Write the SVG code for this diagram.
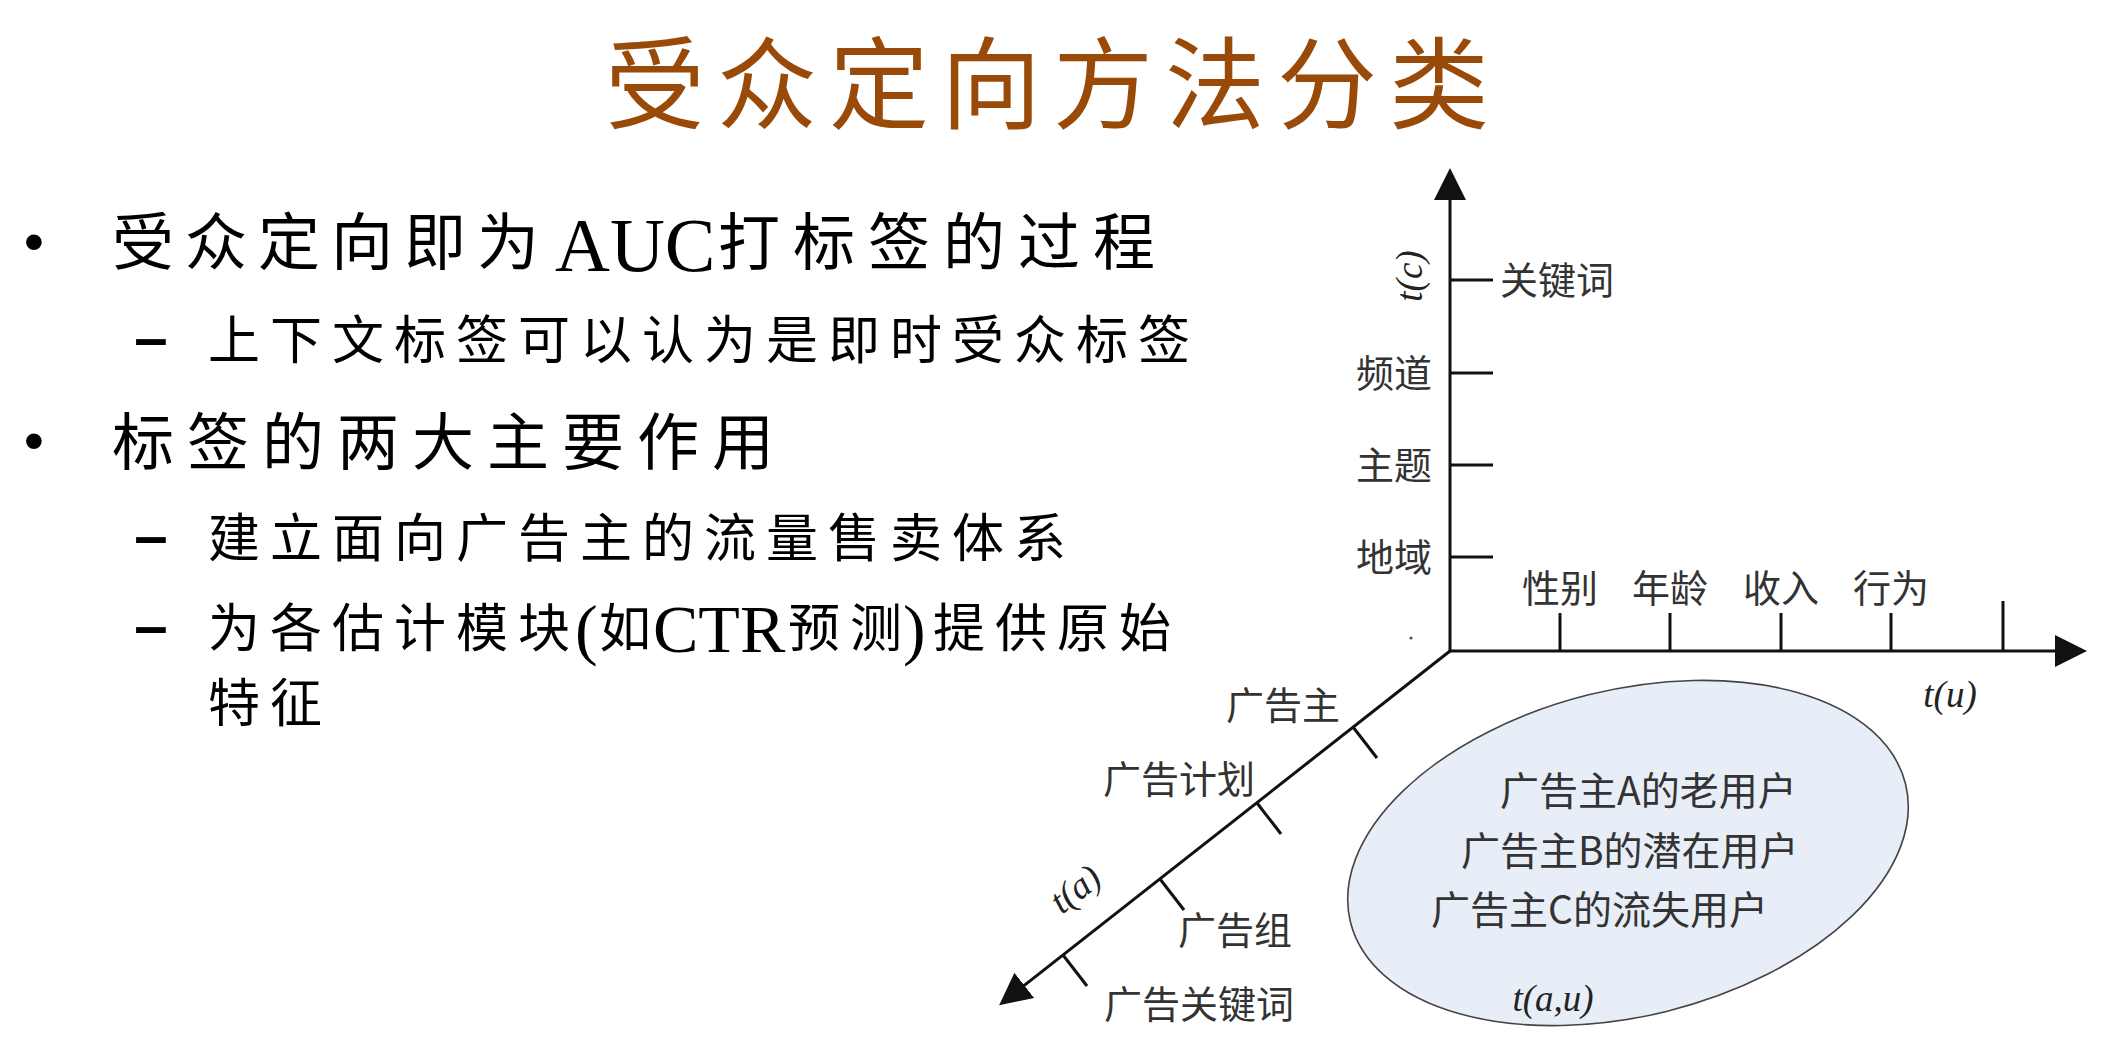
<svg xmlns="http://www.w3.org/2000/svg" width="2109" height="1061" viewBox="0 0 2109 1061">
<defs>
<style>
.title{font-family:"Liberation Serif","Noto Sans CJK SC",serif;font-size:100px;fill:#9A4A08;letter-spacing:12px}
.b1{font-family:"Liberation Serif","Noto Sans CJK SC",serif;font-size:62px;fill:#000}
.b2{font-family:"Liberation Serif","Noto Sans CJK SC",serif;font-size:52px;fill:#000;letter-spacing:10px}
.lat{letter-spacing:0}
.dot{font-family:"Liberation Sans",sans-serif;font-size:58px;fill:#000}
.dash{font-family:"Liberation Sans",sans-serif;font-size:60px;font-weight:bold;fill:#000}
.lbl{font-family:"Noto Sans CJK SC","Liberation Sans",sans-serif;font-size:38px;fill:#333}
.in{font-size:39px}
.math{font-family:"Liberation Serif",serif;font-style:italic;font-size:37px;fill:#222}
.axis{stroke:#111;stroke-width:3;fill:none}
.tick{stroke:#111;stroke-width:3;fill:none}
</style>
<marker id="arr" viewBox="0 0 32 32" refX="22" refY="16" markerWidth="32" markerHeight="32" markerUnits="userSpaceOnUse" orient="auto">
<path d="M0,0 L32,16 L0,32 z" fill="#111"/>
</marker>
</defs>
<rect width="2109" height="1061" fill="#fff"/>

<g id="title">
<text class="title" x="605" y="121">受众定向方法分类</text>
</g>

<g id="bullets">
<text class="dot" x="34" y="261" text-anchor="middle">•</text>
<text class="b1" y="265"><tspan x="112" letter-spacing="11">受众定向即</tspan><tspan letter-spacing="0">为</tspan><tspan class="lat" x="555" y="271" font-size="76">AUC</tspan><tspan x="718" y="265" letter-spacing="13">打标签的过程</tspan></text>
<text class="dash" x="151" y="358" text-anchor="middle">–</text>
<text class="b2" x="208" y="359">上下文标签可以认为是即时受众标签</text>
<text class="dot" x="34" y="460" text-anchor="middle">•</text>
<text class="b1" x="112" y="465" letter-spacing="13">标签的两大主要作用</text>
<text class="dash" x="151" y="556" text-anchor="middle">–</text>
<text class="b2" x="208" y="557">建立面向广告主的流量售卖体系</text>
<text class="dash" x="151" y="646" text-anchor="middle">–</text>
<text class="b2" y="647"><tspan x="208">为各估计模</tspan><tspan class="lat">块</tspan><tspan class="lat" x="575" y="652" font-size="68">(</tspan><tspan class="lat" x="599" y="647">如</tspan><tspan class="lat" x="653" y="652" font-size="68">CTR</tspan><tspan x="788" y="647">预</tspan><tspan class="lat">测</tspan><tspan class="lat" x="903" y="652" font-size="68">)</tspan><tspan x="933" y="647">提供原始</tspan></text>
<text class="b2" x="208" y="722">特征</text>
</g>

<g id="connectors">
<line class="axis" x1="1450" y1="652" x2="1450" y2="178" marker-end="url(#arr)"/>
<line class="axis" x1="1449" y1="651" x2="2077" y2="651" marker-end="url(#arr)"/>
<line class="axis" x1="1450" y1="651" x2="1007" y2="999" marker-end="url(#arr)"/>
<line class="tick" x1="1450" y1="280" x2="1493" y2="280"/>
<line class="tick" x1="1450" y1="373" x2="1493" y2="373"/>
<line class="tick" x1="1450" y1="465" x2="1493" y2="465"/>
<line class="tick" x1="1450" y1="557" x2="1493" y2="557"/>
<line class="tick" x1="1560" y1="651" x2="1560" y2="613"/>
<line class="tick" x1="1670" y1="651" x2="1670" y2="613"/>
<line class="tick" x1="1781" y1="651" x2="1781" y2="613"/>
<line class="tick" x1="1891" y1="651" x2="1891" y2="613"/>
<line class="tick" x1="2003" y1="651" x2="2003" y2="601"/>
<line class="tick" x1="1353" y1="727" x2="1377" y2="758"/>
<line class="tick" x1="1257" y1="803" x2="1281" y2="834"/>
<line class="tick" x1="1160" y1="879" x2="1184" y2="910"/>
<line class="tick" x1="1063" y1="955" x2="1087" y2="986"/>
</g>

<g id="axis-c">
<text class="math" transform="translate(1411,276) rotate(-90)" text-anchor="middle" y="11">t(c)</text>
<text class="lbl" x="1500" y="294">关键词</text>
<text class="lbl" x="1432" y="387" text-anchor="end">频道</text>
<text class="lbl" x="1432" y="479" text-anchor="end">主题</text>
<text class="lbl" x="1432" y="571" text-anchor="end">地域</text>
<circle cx="1411" cy="638" r="1.6" fill="#555"/>
</g>

<g id="axis-u">
<text class="lbl" x="1560" y="602" text-anchor="middle">性别</text>
<text class="lbl" x="1670" y="602" text-anchor="middle">年龄</text>
<text class="lbl" x="1781" y="602" text-anchor="middle">收入</text>
<text class="lbl" x="1891" y="602" text-anchor="middle">行为</text>
<text class="math" x="1950" y="707" text-anchor="middle">t(u)</text>
</g>

<g id="axis-a">
<text class="lbl" x="1226" y="719">广告主</text>
<text class="lbl" x="1103" y="793">广告计划</text>
<text class="lbl" x="1178" y="944">广告组</text>
<text class="lbl" x="1104" y="1018">广告关键词</text>
<text class="math" transform="translate(1076,890) rotate(-38)" text-anchor="middle" y="11">t(a)</text>
</g>

<g id="audience">
<ellipse cx="1628" cy="853" rx="286" ry="163" transform="rotate(-14 1628 853)" fill="#E8EEF7" stroke="#444" stroke-width="1.6"/>
<text class="lbl in" x="1500" y="805">广告主A的老用户</text>
<text class="lbl in" x="1461" y="865">广告主B的潜在用户</text>
<text class="lbl in" x="1431" y="924">广告主C的流失用户</text>
<text class="math" x="1553" y="1011" text-anchor="middle">t(a,u)</text>
</g>
</svg>
